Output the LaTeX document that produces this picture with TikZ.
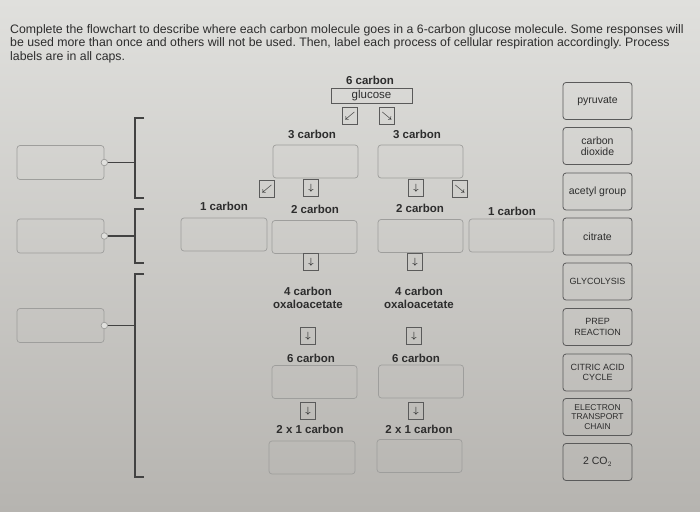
\documentclass[tikz,border=0pt]{standalone}
\usepackage{fontspec}
\setmainfont{Liberation Sans}
\frenchspacing
\definecolor{bgtop}{RGB}{224,224,221}
\definecolor{bgbot}{RGB}{182,180,176}
\definecolor{ink}{RGB}{45,45,45}
\definecolor{slotline}{RGB}{158,158,156}
\definecolor{keyline}{RGB}{90,90,90}
\begin{document}
\begin{tikzpicture}[x=1pt,y=-1pt,
		lbl/.style = {font=\bfseries\fontsize{11.5}{13.5}\selectfont, text=ink, inner sep=0, align=center},
		slot/.style = {draw=slotline, line width=0.7pt, rounded corners=3pt, minimum width=85pt, minimum height=33pt, inner sep=0},
		lslot/.style = {slot, minimum width=87pt, minimum height=34pt},
		answer/.style = {draw=keyline, line width=0.8pt, rounded corners=3pt, minimum width=69pt,
			minimum height=37pt, inner sep=1pt, align=center, text=ink, font=\fontsize{10.5}{11.5}\selectfont},
		capsans/.style = {answer, font=\fontsize{9}{10.5}\selectfont},
		arrbox/.style = {draw=keyline, line width=0.9pt, minimum width=15pt, minimum height=17pt, inner sep=0,
			text=ink, font=\fontsize{9.5}{9.5}\selectfont\boldmath},
		knob/.style = {circle, draw=slotline, line width=0.7pt, fill=bgtop, minimum size=6.5pt, inner sep=0},
		brace/.style = {draw=ink!90, line width=1.1pt}]
		\useasboundingbox (0,0) rectangle (700,511);
		\fill[top color=bgtop, bottom color=bgbot] (0,0) rectangle (700,511);
		\node[anchor=north west, inner sep=0, align=left, text=ink,
			font=\fontsize{12.3}{13.7}\selectfont] (intro) at (10,24)
			{Complete the flowchart to describe where each carbon molecule goes in a 6-carbon glucose molecule. Some responses will\\
			be used more than once and others will not be used. Then, label each process of cellular respiration accordingly. Process\\
			labels are in all caps.};
		\node[lbl] (six) at (370,80) {6 carbon};
		\node[draw=keyline, line width=0.8pt, minimum width=81pt, minimum height=15pt, inner sep=0, text=ink,
			font=\fontsize{11.5}{12}\selectfont] (glu) at (371.5,95.5) {glucose};
		\node[arrbox] (a1) at (350,116) {$\swarrow$};
		\node[arrbox] (a2) at (387,116) {$\searrow$};
		\node[lbl] (tl) at (312,134) {3 carbon};
		\node[lbl] (tr) at (417,134) {3 carbon};
		\node[slot] (s1) at (315.5,161.5) {};
		\node[slot] (s2) at (420.5,161.5) {};
		\node[arrbox] (a3) at (267,189) {$\swarrow$};
		\node[arrbox] (a4) at (311,188) {$\downarrow$};
		\node[arrbox] (a5) at (416,188) {$\downarrow$};
		\node[arrbox] (a6) at (460,189) {$\searrow$};
		\node[lbl] (o1) at (224,206) {1 carbon};
		\node[lbl] (w1) at (315,209) {2 carbon};
		\node[lbl] (w2) at (420,208) {2 carbon};
		\node[lbl] (o2) at (512,211) {1 carbon};
		\node[slot, minimum width=86pt] (r1) at (224,234.5) {};
		\node[slot] (r2) at (314.5,237) {};
		\node[slot] (r3) at (420.5,236) {};
		\node[slot] (r4) at (511.5,235.5) {};
		\node[arrbox] (a7) at (311,262) {$\downarrow$};
		\node[arrbox] (a8) at (415,262) {$\downarrow$};
		\node[lbl] (x1) at (308,298) {4 carbon\\ oxaloacetate};
		\node[lbl] (x2) at (419,298) {4 carbon\\ oxaloacetate};
		\node[arrbox] (a9) at (308,336) {$\downarrow$};
		\node[arrbox] (a10) at (414,336) {$\downarrow$};
		\node[lbl] (h1) at (311,358) {6 carbon};
		\node[lbl] (h2) at (416,358) {6 carbon};
		\node[slot] (c1) at (314.5,382) {};
		\node[slot] (c2) at (421,381.5) {};
		\node[arrbox] (a11) at (308,411) {$\downarrow$};
		\node[arrbox] (a12) at (416,411) {$\downarrow$};
		\node[lbl] (d1) at (310,429) {2 x 1 carbon};
		\node[lbl] (d2) at (419,429) {2 x 1 carbon};
		\node[slot, minimum width=86pt] (e1) at (312,457.5) {};
		\node[slot] (e2) at (419.5,456) {};
		\node[answer] (k1) at (597.5,101) {pyruvate};
		\node[answer] (k2) at (597.5,146) {carbon\\dioxide};
		\node[answer] (k3) at (597.5,191.5) {acetyl group};
		\node[answer] (k4) at (597.5,236.5) {citrate};
		\node[capsans] (k5) at (597.5,281.5) {GLYCOLYSIS};
		\node[capsans] (k6) at (597.5,327) {PREP\\REACTION};
		\node[capsans] (k7) at (597.5,372.5) {CITRIC ACID\\CYCLE};
		\node[capsans, font=\fontsize{8.5}{9.5}\selectfont] (k8) at (597.5,417) {ELECTRON\\TRANSPORT\\CHAIN};
		\node[capsans, font=\fontsize{10.5}{11.5}\selectfont] (k9) at (597.5,462) {2 CO$_{\scriptstyle 2}$};
		\node[lslot] (p1) at (60.5,162.5) {};
		\node[lslot] (p2) at (60.5,236) {};
		\node[lslot] (p3) at (60.5,325.5) {};
		\node[knob] (n1) at (p1.east) {};
		\node[knob] (n2) at (p2.east) {};
		\node[knob] (n3) at (p3.east) {};
		\draw[brace] (144,118) -- (135,118) -- (135,198) -- (144,198);
		\draw[brace] (144,209) -- (135,209) -- (135,263) -- (144,263);
		\draw[brace] (144,274) -- (135,274) -- (135,477) -- (144,477);
		\coordinate (b1) at (135,162.5);
		\coordinate (b2) at (135,236);
		\coordinate (b3) at (135,325.5);
		\draw[brace] (n1) -- (b1);
		\draw[brace] (n2) -- (b2);
		\draw[brace] (n3) -- (b3);
\end{tikzpicture}
\end{document}
